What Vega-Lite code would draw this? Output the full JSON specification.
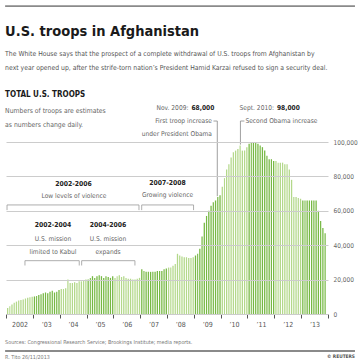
{
  "$schema": "https://vega.github.io/schema/vega-lite/v6.json",
  "width": 322,
  "height": 172,
  "autosize": {"type": "none"},
  "padding": {"left": 6, "top": 142, "right": 32, "bottom": 46},
  "background": "white",
  "config": {
    "view": {"stroke": null},
    "font": "DejaVu Sans Condensed, Roboto, sans-serif",
    "text": {"font": "DejaVu Sans Condensed, Roboto, sans-serif"}
  },
  "resolve": {"axis": {"x": "independent", "y": "independent"}},
  "datasets": {
    "troops": [
      {"date": "2002-01-01", "troops": 3500}, {"date": "2002-02-01", "troops": 4500}, {"date": "2002-03-01", "troops": 5500}, {"date": "2002-04-01", "troops": 6500}, {"date": "2002-05-01", "troops": 7200}, {"date": "2002-06-01", "troops": 7800}, {"date": "2002-07-01", "troops": 8200}, {"date": "2002-08-01", "troops": 8500}, {"date": "2002-09-01", "troops": 9000}, {"date": "2002-10-01", "troops": 9500}, {"date": "2002-11-01", "troops": 9800}, {"date": "2002-12-01", "troops": 10000},
      {"date": "2003-01-01", "troops": 10200}, {"date": "2003-02-01", "troops": 10500}, {"date": "2003-03-01", "troops": 11000}, {"date": "2003-04-01", "troops": 11500}, {"date": "2003-05-01", "troops": 12000}, {"date": "2003-06-01", "troops": 12500}, {"date": "2003-07-01", "troops": 12000}, {"date": "2003-08-01", "troops": 13000}, {"date": "2003-09-01", "troops": 13500}, {"date": "2003-10-01", "troops": 12500}, {"date": "2003-11-01", "troops": 13000}, {"date": "2003-12-01", "troops": 14000},
      {"date": "2004-01-01", "troops": 14500}, {"date": "2004-02-01", "troops": 14500}, {"date": "2004-03-01", "troops": 15000}, {"date": "2004-04-01", "troops": 20000}, {"date": "2004-05-01", "troops": 18000}, {"date": "2004-06-01", "troops": 18000}, {"date": "2004-07-01", "troops": 18500}, {"date": "2004-08-01", "troops": 18000}, {"date": "2004-09-01", "troops": 19000}, {"date": "2004-10-01", "troops": 19000}, {"date": "2004-11-01", "troops": 19500}, {"date": "2004-12-01", "troops": 20000},
      {"date": "2005-01-01", "troops": 20000}, {"date": "2005-02-01", "troops": 21000}, {"date": "2005-03-01", "troops": 22000}, {"date": "2005-04-01", "troops": 21000}, {"date": "2005-05-01", "troops": 22000}, {"date": "2005-06-01", "troops": 22500}, {"date": "2005-07-01", "troops": 22000}, {"date": "2005-08-01", "troops": 21000}, {"date": "2005-09-01", "troops": 22000}, {"date": "2005-10-01", "troops": 21500}, {"date": "2005-11-01", "troops": 21000}, {"date": "2005-12-01", "troops": 22000},
      {"date": "2006-01-01", "troops": 21000}, {"date": "2006-02-01", "troops": 22000}, {"date": "2006-03-01", "troops": 22500}, {"date": "2006-04-01", "troops": 21500}, {"date": "2006-05-01", "troops": 22000}, {"date": "2006-06-01", "troops": 21000}, {"date": "2006-07-01", "troops": 20500}, {"date": "2006-08-01", "troops": 20500}, {"date": "2006-09-01", "troops": 20000}, {"date": "2006-10-01", "troops": 20000}, {"date": "2006-11-01", "troops": 20500}, {"date": "2006-12-01", "troops": 21000},
      {"date": "2007-01-01", "troops": 26000}, {"date": "2007-02-01", "troops": 25000}, {"date": "2007-03-01", "troops": 24500}, {"date": "2007-04-01", "troops": 24500}, {"date": "2007-05-01", "troops": 24500}, {"date": "2007-06-01", "troops": 24500}, {"date": "2007-07-01", "troops": 24500}, {"date": "2007-08-01", "troops": 25000}, {"date": "2007-09-01", "troops": 25000}, {"date": "2007-10-01", "troops": 25000}, {"date": "2007-11-01", "troops": 26000}, {"date": "2007-12-01", "troops": 26500},
      {"date": "2008-01-01", "troops": 27000}, {"date": "2008-02-01", "troops": 27000}, {"date": "2008-03-01", "troops": 28000}, {"date": "2008-04-01", "troops": 29000}, {"date": "2008-05-01", "troops": 35000}, {"date": "2008-06-01", "troops": 34000}, {"date": "2008-07-01", "troops": 33500}, {"date": "2008-08-01", "troops": 33000}, {"date": "2008-09-01", "troops": 33000}, {"date": "2008-10-01", "troops": 32500}, {"date": "2008-11-01", "troops": 32500}, {"date": "2008-12-01", "troops": 33000},
      {"date": "2009-01-01", "troops": 34000}, {"date": "2009-02-01", "troops": 35000}, {"date": "2009-03-01", "troops": 38000}, {"date": "2009-04-01", "troops": 45000}, {"date": "2009-05-01", "troops": 53000}, {"date": "2009-06-01", "troops": 57000}, {"date": "2009-07-01", "troops": 60000}, {"date": "2009-08-01", "troops": 63000}, {"date": "2009-09-01", "troops": 65000}, {"date": "2009-10-01", "troops": 66000}, {"date": "2009-11-01", "troops": 68000}, {"date": "2009-12-01", "troops": 69000},
      {"date": "2010-01-01", "troops": 74000}, {"date": "2010-02-01", "troops": 79000}, {"date": "2010-03-01", "troops": 84000}, {"date": "2010-04-01", "troops": 87000}, {"date": "2010-05-01", "troops": 91000}, {"date": "2010-06-01", "troops": 94000}, {"date": "2010-07-01", "troops": 95000}, {"date": "2010-08-01", "troops": 96000}, {"date": "2010-09-01", "troops": 98000}, {"date": "2010-10-01", "troops": 95000}, {"date": "2010-11-01", "troops": 95000}, {"date": "2010-12-01", "troops": 97000},
      {"date": "2011-01-01", "troops": 99000}, {"date": "2011-02-01", "troops": 100000}, {"date": "2011-03-01", "troops": 100000}, {"date": "2011-04-01", "troops": 100000}, {"date": "2011-05-01", "troops": 99000}, {"date": "2011-06-01", "troops": 98000}, {"date": "2011-07-01", "troops": 97000}, {"date": "2011-08-01", "troops": 95000}, {"date": "2011-09-01", "troops": 92000}, {"date": "2011-10-01", "troops": 90000}, {"date": "2011-11-01", "troops": 90000}, {"date": "2011-12-01", "troops": 89000},
      {"date": "2012-01-01", "troops": 89000}, {"date": "2012-02-01", "troops": 88000}, {"date": "2012-03-01", "troops": 88000}, {"date": "2012-04-01", "troops": 88000}, {"date": "2012-05-01", "troops": 87000}, {"date": "2012-06-01", "troops": 87000}, {"date": "2012-07-01", "troops": 84000}, {"date": "2012-08-01", "troops": 78000}, {"date": "2012-09-01", "troops": 68000}, {"date": "2012-10-01", "troops": 68000}, {"date": "2012-11-01", "troops": 67500}, {"date": "2012-12-01", "troops": 67000},
      {"date": "2013-01-01", "troops": 66000}, {"date": "2013-02-01", "troops": 66000}, {"date": "2013-03-01", "troops": 66000}, {"date": "2013-04-01", "troops": 66000}, {"date": "2013-05-01", "troops": 66000}, {"date": "2013-06-01", "troops": 66000}, {"date": "2013-07-01", "troops": 66000}, {"date": "2013-08-01", "troops": 60000}, {"date": "2013-09-01", "troops": 54000}, {"date": "2013-10-01", "troops": 50000}, {"date": "2013-11-01", "troops": 47000}
    ],
    "title": [{"text": "U.S. troops in Afghanistan", "date": "2001-12-20", "value": 164000}],
    "subtitle": [
      {"text": "The White House says that the prospect of a complete withdrawal of U.S. troops from Afghanistan by", "date": "2001-12-20", "value": 151000},
      {"text": "next year opened up, after the strife-torn nation’s President Hamid Karzai refused to sign a security deal.", "date": "2001-12-20", "value": 142800}
    ],
    "header": [{"text": "TOTAL U.S. TROOPS", "date": "2001-12-20", "value": 127300}],
    "headerNote": [
      {"text": "Numbers of troops are estimates", "date": "2001-12-20", "value": 118200},
      {"text": "as numbers change daily.", "date": "2001-12-20", "value": 109900}
    ],
    "periods": [
      {"text": "2002-2006", "date": "2004-07-07", "value": 75600},
      {"text": "2007-2008", "date": "2008-01-08", "value": 76200},
      {"text": "2002-2004", "date": "2003-10-02", "value": 51700},
      {"text": "2004-2006", "date": "2005-10-20", "value": 51700}
    ],
    "periodNotes": [
      {"text": "Low levels of violence", "date": "2004-07-14", "value": 68800},
      {"text": "Growing violence", "date": "2008-01-08", "value": 69200},
      {"text": "U.S. mission", "date": "2003-10-02", "value": 43600},
      {"text": "limited to Kabul", "date": "2003-10-02", "value": 36200},
      {"text": "U.S. mission", "date": "2005-10-20", "value": 43600},
      {"text": "expands", "date": "2005-10-20", "value": 36200}
    ],
    "notesRight": [
      {"text": "First troop increase", "date": "2009-09-05", "value": 112200},
      {"text": "under President Obama", "date": "2009-09-05", "value": 104900}
    ],
    "dateLabels": [
      {"text": "Nov. 2009:", "date": "2008-11-09", "value": 119500},
      {"text": "Sept. 2010:", "date": "2012-01-17", "value": 119500}
    ],
    "dateValues": [
      {"text": "68,000", "date": "2008-11-09", "value": 119500},
      {"text": "98,000", "date": "2012-01-17", "value": 119500}
    ],
    "notesLeft": [
      {"text": "Second Obama increase", "date": "2010-12-04", "value": 112200}
    ],
    "brackets": [
      {"from": "2002-01-15", "to": "2006-12-16", "level": 63400, "tip": 60400},
      {"from": "2007-01-22", "to": "2008-12-28", "level": 63400, "tip": 60400},
      {"from": "2002-09-16", "to": "2004-09-24", "level": 31000, "tip": 28200},
      {"from": "2004-10-27", "to": "2006-10-22", "level": 31000, "tip": 28200}
    ],
    "leaders": [
      {"x": "2009-09-25", "x2": "2009-11-16", "y": 112200, "y2": 112200},
      {"x": "2009-11-16", "x2": "2009-11-16", "y": 112200, "y2": 68500},
      {"x": "2010-09-27", "x2": "2010-11-20", "y": 112200, "y2": 112200},
      {"x": "2010-09-27", "x2": "2010-09-27", "y": 112200, "y2": 98500}
    ],
    "pageRules": [
      {"x": "2001-12-20", "x2": "2015-01-03", "y": 179000, "y2": 179000},
      {"x": "2001-12-20", "x2": "2015-01-03", "y": -21500, "y2": -21500}
    ],
    "footer": [
      {"text": "Sources: Congressional Research Service; Brookings Institute; media reports.", "date": "2001-12-20", "value": -16100},
      {"text": "R. Tito 26/11/2013", "date": "2001-12-20", "value": -25000}
    ],
    "footerRight": [{"text": "© REUTERS", "date": "2015-01-03", "value": -25000}]
  },
  "layer": [
    {
      "data": {"name": "troops"},
      "mark": {"type": "bar"},
      "encoding": {
        "x": {
          "field": "date", "timeUnit": "yearmonth", "type": "temporal", "title": null,
          "scale": {"domain": [{"year": 2002, "month": 1, "date": 1}, {"year": 2014, "month": 1, "date": 1}]},
          "axis": {
            "values": [{"year": 2002}, {"year": 2003}, {"year": 2004}, {"year": 2005}, {"year": 2006}, {"year": 2007}, {"year": 2008}, {"year": 2009}, {"year": 2010}, {"year": 2011}, {"year": 2012}, {"year": 2013}, {"year": 2014}],
            "labelExpr": "year(datum.value) == 2014 ? '' : (year(datum.value) == 2002 ? '2002' : '’' + timeFormat(datum.value, '%y'))",
            "labelOffset": 13.4, "labelFlush": false, "labelOverlap": false,
            "labelFontSize": 7, "labelColor": "#555", "labelPadding": 2,
            "tickSize": 4, "tickColor": "#555", "domainColor": "#999", "grid": false
          }
        },
        "y": {
          "field": "troops", "type": "quantitative", "title": null,
          "scale": {"domain": [0, 100000], "nice": false},
          "axis": {
            "orient": "right", "values": [0, 20000, 40000, 60000, 80000, 100000], "format": ",d",
            "grid": true, "gridColor": "#cccccc", "domain": false, "ticks": false,
            "labelOverlap": false, "labelFlush": false,
            "labelPadding": 5, "labelFontSize": 6.5, "labelColor": "#666", "zindex": 1
          }
        },
        "color": {
          "field": "date", "timeUnit": "year", "type": "ordinal",
          "scale": {"range": ["#b3d88a", "#76b843"]}, "legend": null
        }
      }
    },
    {
      "data": {"name": "pageRules"},
      "mark": {"type": "rule", "color": "#8a8a8a", "strokeWidth": 1.8},
      "encoding": {
        "x": {"field": "x", "type": "temporal", "axis": null},
        "x2": {"field": "x2"},
        "y": {"field": "y", "type": "quantitative", "axis": null},
        "y2": {"field": "y2"}
      }
    },
    {
      "data": {"name": "brackets"},
      "mark": {"type": "rule", "color": "#999", "strokeWidth": 0.8},
      "encoding": {
        "x": {"field": "from", "type": "temporal", "axis": null},
        "x2": {"field": "to"},
        "y": {"field": "level", "type": "quantitative", "axis": null}
      }
    },
    {
      "data": {"name": "brackets"},
      "transform": [{"fold": ["from", "to"], "as": ["side", "pos"]}],
      "mark": {"type": "rule", "color": "#999", "strokeWidth": 0.8},
      "encoding": {
        "x": {"field": "pos", "type": "temporal", "axis": null},
        "y": {"field": "level", "type": "quantitative", "axis": null},
        "y2": {"field": "tip"}
      }
    },
    {
      "data": {"name": "leaders"},
      "mark": {"type": "rule", "color": "#888", "strokeWidth": 0.8},
      "encoding": {
        "x": {"field": "x", "type": "temporal", "axis": null},
        "x2": {"field": "x2"},
        "y": {"field": "y", "type": "quantitative", "axis": null},
        "y2": {"field": "y2"}
      }
    },
    {
      "data": {"name": "title"},
      "mark": {"type": "text", "align": "left", "fontSize": 14.5, "fontWeight": "bold", "color": "#1a1a1a"},
      "encoding": {
        "x": {"field": "date", "type": "temporal", "axis": null},
        "y": {"field": "value", "type": "quantitative", "axis": null},
        "text": {"field": "text"}
      }
    },
    {
      "data": {"name": "subtitle"},
      "mark": {"type": "text", "align": "left", "fontSize": 6.8, "color": "#555"},
      "encoding": {
        "x": {"field": "date", "type": "temporal", "axis": null},
        "y": {"field": "value", "type": "quantitative", "axis": null},
        "text": {"field": "text"}
      }
    },
    {
      "data": {"name": "header"},
      "mark": {"type": "text", "align": "left", "fontSize": 8, "fontWeight": "bold", "color": "#1a1a1a"},
      "encoding": {
        "x": {"field": "date", "type": "temporal", "axis": null},
        "y": {"field": "value", "type": "quantitative", "axis": null},
        "text": {"field": "text"}
      }
    },
    {
      "data": {"name": "headerNote"},
      "mark": {"type": "text", "align": "left", "fontSize": 6.8, "color": "#666"},
      "encoding": {
        "x": {"field": "date", "type": "temporal", "axis": null},
        "y": {"field": "value", "type": "quantitative", "axis": null},
        "text": {"field": "text"}
      }
    },
    {
      "data": {"name": "periods"},
      "mark": {"type": "text", "align": "center", "fontSize": 6.8, "fontWeight": "bold", "color": "#222"},
      "encoding": {
        "x": {"field": "date", "type": "temporal", "axis": null},
        "y": {"field": "value", "type": "quantitative", "axis": null},
        "text": {"field": "text"}
      }
    },
    {
      "data": {"name": "periodNotes"},
      "mark": {"type": "text", "align": "center", "fontSize": 6.6, "color": "#666"},
      "encoding": {
        "x": {"field": "date", "type": "temporal", "axis": null},
        "y": {"field": "value", "type": "quantitative", "axis": null},
        "text": {"field": "text"}
      }
    },
    {
      "data": {"name": "notesRight"},
      "mark": {"type": "text", "align": "right", "fontSize": 6.6, "color": "#666"},
      "encoding": {
        "x": {"field": "date", "type": "temporal", "axis": null},
        "y": {"field": "value", "type": "quantitative", "axis": null},
        "text": {"field": "text"}
      }
    },
    {
      "data": {"name": "dateLabels"},
      "mark": {"type": "text", "align": "right", "dx": -1.5, "fontSize": 6.6, "color": "#666"},
      "encoding": {
        "x": {"field": "date", "type": "temporal", "axis": null},
        "y": {"field": "value", "type": "quantitative", "axis": null},
        "text": {"field": "text"}
      }
    },
    {
      "data": {"name": "dateValues"},
      "mark": {"type": "text", "align": "left", "dx": 1.5, "fontSize": 6.6, "fontWeight": "bold", "color": "#222"},
      "encoding": {
        "x": {"field": "date", "type": "temporal", "axis": null},
        "y": {"field": "value", "type": "quantitative", "axis": null},
        "text": {"field": "text"}
      }
    },
    {
      "data": {"name": "notesLeft"},
      "mark": {"type": "text", "align": "left", "fontSize": 6.6, "color": "#666"},
      "encoding": {
        "x": {"field": "date", "type": "temporal", "axis": null},
        "y": {"field": "value", "type": "quantitative", "axis": null},
        "text": {"field": "text"}
      }
    },
    {
      "data": {"name": "footer"},
      "mark": {"type": "text", "align": "left", "fontSize": 5.4, "color": "#777"},
      "encoding": {
        "x": {"field": "date", "type": "temporal", "axis": null},
        "y": {"field": "value", "type": "quantitative", "axis": null},
        "text": {"field": "text"}
      }
    },
    {
      "data": {"name": "footerRight"},
      "mark": {"type": "text", "align": "right", "fontSize": 4.8, "fontWeight": "bold", "color": "#555"},
      "encoding": {
        "x": {"field": "date", "type": "temporal", "axis": null},
        "y": {"field": "value", "type": "quantitative", "axis": null},
        "text": {"field": "text"}
      }
    }
  ]
}
